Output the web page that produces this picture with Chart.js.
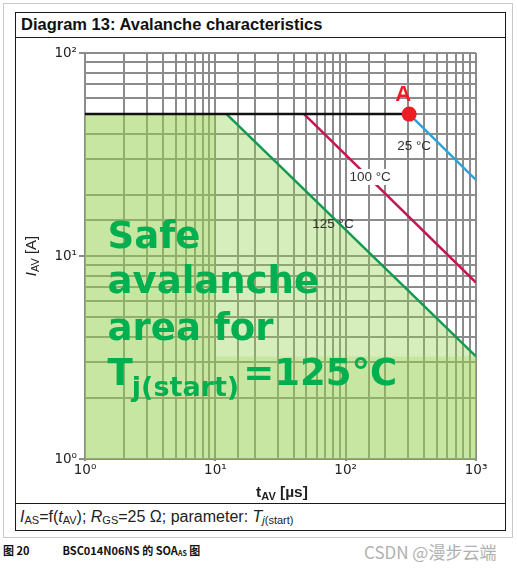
<!DOCTYPE html>
<html>
<head>
<meta charset="utf-8">
<script src="https://cdn.jsdelivr.net/npm/chart.js@4.4.0/dist/chart.umd.min.js"></script>
<style>
  body { margin: 0; background: #fff; font-family: "Liberation Sans", Arial, sans-serif; }
  #page { position: relative; width: 517px; height: 568px; overflow: hidden; }
  .abs { position: absolute; }
  #outer { left: 3px; top: 3px; width: 510px; height: 535px; border: 1px solid #c8c8c8; box-sizing: border-box; }
  #box { left: 15px; top: 12px; width: 491px; height: 519px; border: 1.5px solid #1a1a1a; box-sizing: border-box; }
  #title { left: 15px; top: 12px; width: 491px; height: 26px; border-bottom: 1.5px solid #1a1a1a; box-sizing: border-box;
           font-weight: bold; font-size: 16.5px; padding: 3px 0 0 6px; color: #111; }
  #caption { left: 15px; top: 503px; width: 491px; height: 28px; border-top: 1.5px solid #1a1a1a; box-sizing: border-box;
             font-size: 16px; padding: 4px 0 0 5px; color: #222; }
  #caption sub { font-size: 11px; vertical-align: -2px; font-style: normal; }
  #chart { left: 16px; top: 38px; }
  #fig { left: 3px; top: 542px; font-family: "Noto Sans CJK SC", sans-serif; font-weight: bold; font-size: 11px; color: #111; }
  #fig sub { font-size: 7px; vertical-align: -1px; }
  #mark { left: 364px; top: 539px; font-family: "Noto Sans CJK SC", sans-serif; font-size: 17px; color: #b0b0b0; }
</style>
</head>
<body>
<div id="page">
  <div id="outer" class="abs"></div>
  <div id="box" class="abs"></div>
  <div id="title" class="abs">Diagram 13: Avalanche characteristics</div>
  <canvas id="chart" class="abs" width="488" height="465"></canvas>
  <div id="caption" class="abs"><i>I</i><sub>AS</sub>=f(<i>t</i><sub>AV</sub>); <i>R</i><sub>GS</sub>=25 Ω; parameter: <i>T</i><sub><i>j</i>(start)</sub></div>
  <div id="fig" class="abs">图 20<span style="margin-left:33px">BSC014N06NS 的 SOA<sub>AS</sub> 图</span></div>
  <div id="mark" class="abs">CSDN @漫步云端</div>
</div>
<script>
// avalanche current limit (A) and the time where each curve leaves it (µs)
const iAv = 50;
const temps = ["25 °C", "100 °C", "125 °C"];
const tKnee = [307, 48, 12.2];
const tEnd = 1000;
const iEnd = [23.7, 7.4, 3.2];
const lineColors = ["#2ba3d8", "#c4174f", "#139a52"];

// label anchors (data coordinates)
const tempLabelX = [335, 154, 80];
const tempLabelY = [34.8, 24.5, 14.4];

// big annotation text
const safeLines = ["Safe", "avalanche", "area for"];
const safeX = 1.49;
const safeY = [10.9, 6.58, 3.85, 2.32];

const sup = { 0: "\u2070", 1: "\u00b9", 2: "\u00b2", 3: "\u00b3" };

function isDecade(v) {
  const e = Math.log10(v);
  return Math.abs(e - Math.round(e)) < 1e-9;
}

// lines for each temperature
const curveSets = temps.map((t, i) => ({
  label: t,
  data: [{ x: tKnee[i], y: iAv }, { x: tEnd, y: iEnd[i] }],
  borderColor: lineColors[i],
  borderWidth: 2.5,
  pointRadius: 0,
  fill: false,
  order: 2,
}));

const annotate = {
  id: "annotate",
  afterDatasetsDraw(chart) {
    const { ctx, scales: { x, y } } = chart;
    ctx.save();

    // temperature labels
    ctx.font = "13.5px 'Liberation Sans', Arial";
    ctx.textAlign = "center";
    ctx.textBaseline = "middle";
    temps.forEach((t, i) => {
      const px = x.getPixelForValue(tempLabelX[i]);
      const py = y.getPixelForValue(tempLabelY[i]);
      if (i === 1) {
        const w = ctx.measureText(t).width;
        ctx.fillStyle = "#fff";
        ctx.fillRect(px - w / 2 - 2, py - 8, w + 4, 16);
      }
      ctx.fillStyle = "#333";
      ctx.fillText(t, px, py);
    });

    // point A label
    ctx.font = "bold 22px 'Liberation Sans', Arial";
    ctx.fillStyle = "#ee1c25";
    ctx.fillText("A", x.getPixelForValue(tKnee[0]) - 6, y.getPixelForValue(iAv) - 19);

    // safe area text
    ctx.fillStyle = "#00b050";
    ctx.textAlign = "left";
    ctx.textBaseline = "alphabetic";
    const big = "bold 37px 'DejaVu Sans', Verdana";
    const small = "bold 27px 'DejaVu Sans', Verdana";
    const sx = x.getPixelForValue(safeX);
    ctx.font = big;
    safeLines.forEach((s, i) => ctx.fillText(s, sx, y.getPixelForValue(safeY[i])));
    const by = y.getPixelForValue(safeY[3]);
    ctx.fillText("T", sx, by);
    let cx = sx + ctx.measureText("T").width - 1;
    ctx.font = small;
    ctx.fillText("j(start)", cx, by + 11);
    cx += ctx.measureText("j(start)").width + 4;
    ctx.font = big;
    ctx.fillText("=125°C", cx, by);

    // y axis title
    ctx.fillStyle = "#222";
    ctx.save();
    ctx.translate(15, (chart.chartArea.top + chart.chartArea.bottom) / 2);
    ctx.rotate(-Math.PI / 2);
    const parts = [
      ["italic 15px 'Liberation Sans', Arial", "I", 0],
      ["11px 'Liberation Sans', Arial", "AV", 3],
      ["15px 'Liberation Sans', Arial", " [A]", 0],
    ];
    let total = 0;
    parts.forEach(([f, s]) => { ctx.font = f; total += ctx.measureText(s).width; });
    let ox = -total / 2;
    parts.forEach(([f, s, dy]) => {
      ctx.font = f;
      ctx.fillText(s, ox, 5 + dy);
      ox += ctx.measureText(s).width;
    });
    ctx.restore();

    // x axis title
    const xparts = [
      ["bold 15.5px 'Liberation Sans', Arial", "t", 0],
      ["bold 11px 'Liberation Sans', Arial", "AV", 3],
      ["bold 15.5px 'Liberation Sans', Arial", " [µs]", 0],
    ];
    total = 0;
    xparts.forEach(([f, s]) => { ctx.font = f; total += ctx.measureText(s).width; });
    ox = 266 - total / 2;
    xparts.forEach(([f, s, dy]) => {
      ctx.font = f;
      ctx.fillText(s, ox, 459 + dy);
      ox += ctx.measureText(s).width;
    });

    ctx.restore();
  },
};

const gridOpts = {
  color: "#8c8c8c",
  lineWidth: 2,
  tickLength: 6,
  tickColor: (c) => (c.tick && isDecade(c.tick.value) ? "#8c8c8c" : "rgba(0,0,0,0)"),
};

const tickFont = { family: "'DejaVu Sans', 'Liberation Sans', Arial", size: 13.5 };

new Chart(document.getElementById("chart"), {
  type: "line",
  data: {
    datasets: [
      {
        label: "pointA",
        data: [{ x: tKnee[0], y: iAv }],
        showLine: false,
        pointRadius: 7.5,
        pointBackgroundColor: "#ee1c25",
        pointBorderWidth: 0,
        order: 0,
      },
      {
        label: "limit",
        data: [{ x: 1, y: iAv }, { x: tKnee[0], y: iAv }],
        borderColor: "#111",
        borderWidth: 2.5,
        pointRadius: 0,
        fill: false,
        order: 1,
      },
      ...curveSets,
      {
        label: "safe area",
        data: [{ x: 1, y: iAv }, { x: tKnee[2], y: iAv }, { x: tEnd, y: iEnd[2] }],
        borderWidth: 0,
        pointRadius: 0,
        backgroundColor: "rgba(146,208,80,0.38)",
        fill: "start",
        order: 10,
      },
      {
        label: "shade left",
        data: [{ x: 1, y: iAv }, { x: 10, y: iAv }],
        borderWidth: 0,
        pointRadius: 0,
        backgroundColor: "rgba(146,208,80,0.25)",
        fill: "start",
        order: 9,
      },
      {
        label: "shade bottom",
        data: [{ x: 10, y: iEnd[2] }, { x: tEnd, y: iEnd[2] }],
        borderWidth: 0,
        pointRadius: 0,
        backgroundColor: "rgba(146,208,80,0.25)",
        fill: "start",
        order: 9,
      },
    ],
  },
  options: {
    responsive: false,
    animation: false,
    layout: { padding: { top: 15, right: 28, left: 0, bottom: 0 } },
    plugins: { legend: { display: false }, tooltip: { enabled: false } },
    scales: {
      x: {
        type: "logarithmic",
        min: 1,
        max: 1000,
        afterFit: (s) => { s.height = 44; },
        grid: { ...gridOpts, tickLength: 2 },
        border: { color: "#8c8c8c", width: 2 },
        ticks: {
          autoSkip: false,
          maxRotation: 0,
          padding: 1,
          color: "#222",
          font: tickFont,
          callback: (v) => (isDecade(v) ? "10" + sup[Math.round(Math.log10(v))] : ""),
        },
      },
      y: {
        type: "logarithmic",
        min: 1,
        max: 100,
        afterFit: (s) => { s.width = 69; },
        grid: gridOpts,
        border: { color: "#8c8c8c", width: 2 },
        ticks: {
          autoSkip: false,
          padding: 2,
          color: "#222",
          font: tickFont,
          callback: (v) => (isDecade(v) ? "10" + sup[Math.round(Math.log10(v))] : ""),
        },
      },
    },
  },
  plugins: [annotate],
});
</script>
</body>
</html>
